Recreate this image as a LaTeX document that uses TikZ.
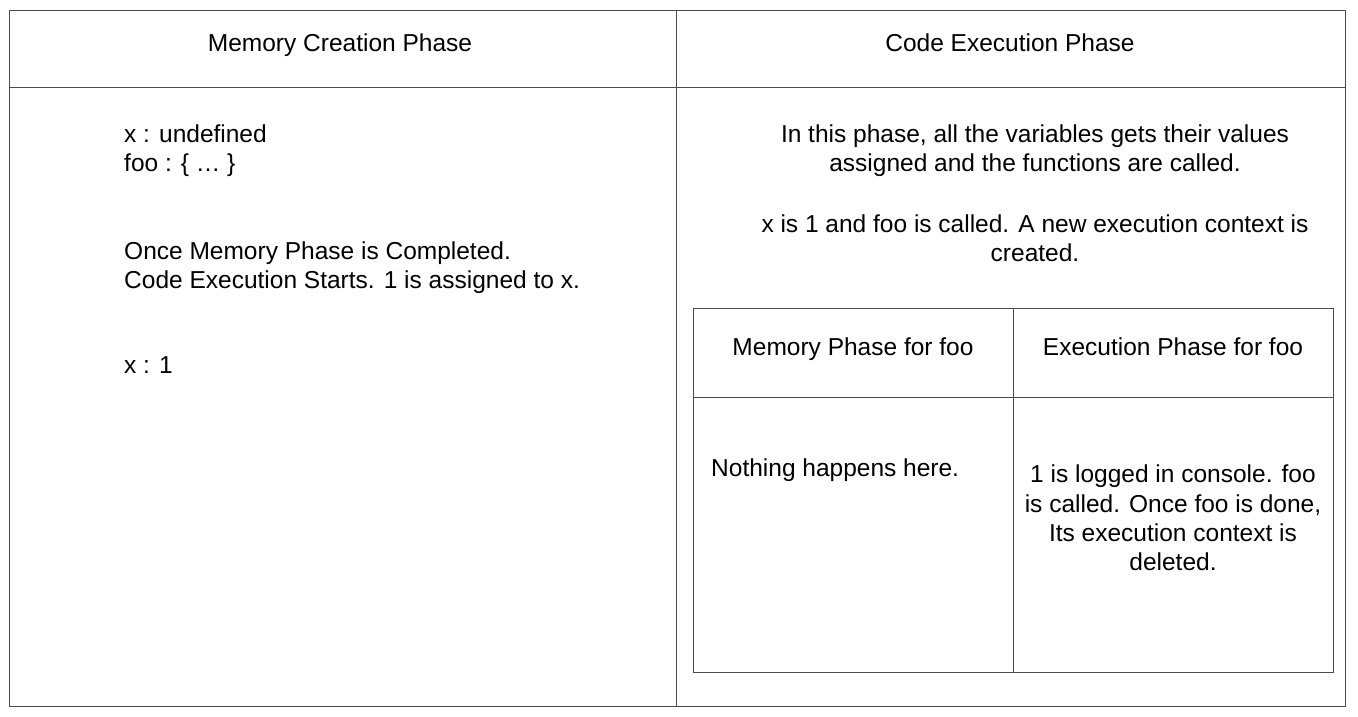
\documentclass[tikz,border=0pt]{standalone}
\usepackage{fontspec}
\setmainfont{Liberation Sans}
\begin{document}
\begin{tikzpicture}[x=1pt,y=-1pt,
  ln/.style={draw=black!70,line width=0.8pt},
  txt/.style={inner sep=0pt,font=\fontsize{24.5}{29.3}\selectfont,text=black},
  one/.style={text height=0.72em,text depth=0.22em}]
\useasboundingbox (0,0) rectangle (1358,717);
\draw[ln] (9,10) rectangle (1345,706);
\draw[ln] (676,10) -- (676,706);
\draw[ln] (9,87) -- (1345,87);
\draw[ln] (693,308) rectangle (1333,672);
\draw[ln] (1013,308) -- (1013,672);
\draw[ln] (693,397) -- (1333,397);
\node[txt,one] (h1) at (340,49) {Memory Creation Phase};
\node[txt,one] (h2) at (1010,49) {Code Execution Phase};
\node[txt,anchor=west,align=left] (l1) at (124,150.5) {x : undefined\\foo : \{ … \}};
\node[txt,anchor=west,align=left] (l2) at (124,267.5) {Once Memory Phase is Completed.\\Code Execution Starts. 1 is assigned to x.};
\node[txt,one,anchor=west] (l3) at (124,371) {x : 1};
\node[txt,align=center] (r1) at (1035,150.5) {In this phase, all the variables gets their values\\assigned and the functions are called.};
\node[txt,align=center] (r2) at (1035,238.5) {x is 1 and foo is called. A new execution context is\\created.};
\node[txt,one] (m1) at (853,353) {Memory Phase for foo};
\node[txt,one] (m2) at (1173,353) {Execution Phase for foo};
\node[txt,one,anchor=west] (n1) at (711,474) {Nothing happens here.};
\node[txt,align=center] (n2) at (1173,518) {1 is logged in console. foo\\is called. Once foo is done,\\Its execution context is\\deleted.};
\end{tikzpicture}
\end{document}
